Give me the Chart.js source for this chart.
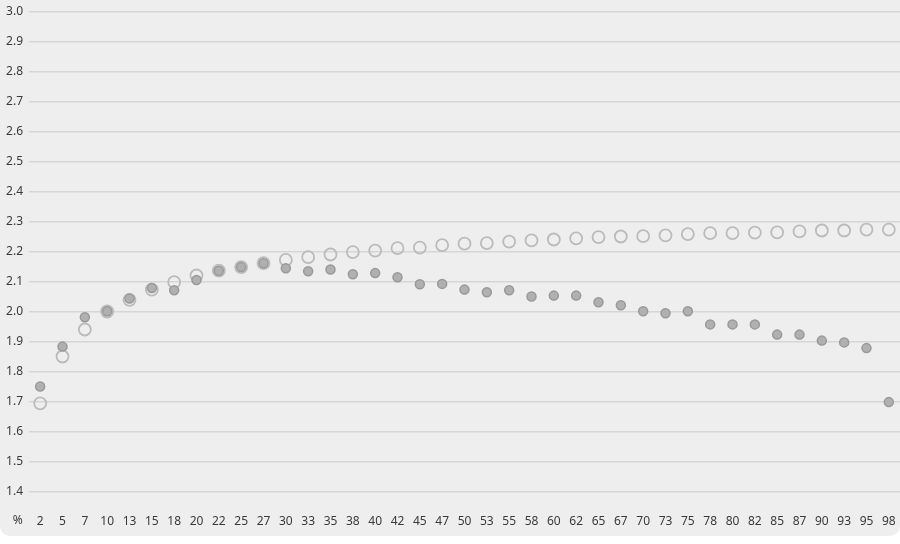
<!DOCTYPE html>
<html>
<head>
<meta charset="utf-8">
<script src="https://cdn.jsdelivr.net/npm/chart.js@4"></script>
<style>
  html, body { margin: 0; padding: 0; background: #ffffff; }
  #panel { position: absolute; left: 0; top: 0; width: 900px; height: 536px; background: #eeeeee; border-radius: 0 0 10px 10px; overflow: hidden; }
  canvas { display: block; }
</style>
</head>
<body>
<div id="panel"><canvas id="c" width="900" height="536"></canvas></div>
<script>
const categories = ['2','5','7','10','13','15','18','20','22','25','27','30','33','35','38','40','42','45','47','50','53','55','58','60','62','65','67','70','73','75','78','80','82','85','87','90','93','95','98'];
const filledValues = [1.750,1.883,1.981,2.001,2.043,2.078,2.071,2.105,2.136,2.148,2.161,2.144,2.134,2.140,2.124,2.128,2.114,2.091,2.092,2.073,2.064,2.071,2.050,2.053,2.053,2.031,2.021,2.001,1.994,2.001,1.957,1.957,1.957,1.923,1.923,1.903,1.897,1.878,1.698];
const openValues = [1.694,1.850,1.940,2.000,2.039,2.073,2.098,2.120,2.136,2.148,2.161,2.172,2.181,2.190,2.198,2.203,2.211,2.213,2.221,2.226,2.228,2.233,2.237,2.240,2.244,2.248,2.250,2.251,2.254,2.258,2.261,2.261,2.263,2.264,2.267,2.270,2.270,2.273,2.273];
const yTickMin = 1.4, yTickMax = 3.0, yTickStep = 0.1;
const cornerLabel = '%';

const FONT = '"Noto Sans", "DejaVu Sans", sans-serif';
const X_LABEL_PAD = 23;
const LABEL_COLOR = '#3a3a3a';

const cornerPlugin = {
  id: 'cornerLabel',
  afterDraw(chart) {
    const xs = chart.scales.x;
    const x0 = xs.getPixelForValue(0);
    const x1 = xs.getPixelForValue(1);
    const ctx = chart.ctx;
    ctx.save();
    ctx.font = '12px ' + FONT;
    ctx.fillStyle = LABEL_COLOR;
    ctx.textAlign = 'center';
    ctx.textBaseline = 'top';
    ctx.fillText(cornerLabel, x0 - (x1 - x0), xs.top + X_LABEL_PAD);
    ctx.restore();
  }
};

new Chart(document.getElementById('c'), {
  type: 'line',
  data: {
    labels: categories,
    datasets: [
      {
        data: filledValues,
        showLine: false,
        pointRadius: 4.5,
        pointHoverRadius: 4.5,
        pointBackgroundColor: '#b0b0b0',
        pointBorderColor: '#999999',
        pointBorderWidth: 1.5,
        borderColor: '#999999',
        backgroundColor: '#b0b0b0'
      },
      {
        data: openValues,
        showLine: false,
        pointRadius: 6,
        pointHoverRadius: 6,
        pointBackgroundColor: 'rgba(0,0,0,0)',
        pointBorderColor: '#bbbbbb',
        pointBorderWidth: 1.8,
        borderColor: '#bbbbbb',
        backgroundColor: 'rgba(0,0,0,0)'
      }
    ]
  },
  options: {
    responsive: false,
    animation: false,
    devicePixelRatio: 1,
    layout: { autoPadding: false, padding: { left: 0, right: 0, top: 11.5, bottom: 0 } },
    plugins: { legend: { display: false }, tooltip: { enabled: false } },
    scales: {
      x: {
        offset: true,
        grid: { display: false, drawTicks: false },
        border: { display: false },
        ticks: { font: { family: FONT, size: 12 }, color: LABEL_COLOR, padding: X_LABEL_PAD, maxRotation: 0, autoSkip: false },
        afterFit(scale) {
          scale.height = 44.5;
          scale.paddingLeft = 0;
          scale.paddingRight = 0;
        }
      },
      y: {
        min: yTickMin,
        max: yTickMax,
        grid: { color: '#d6d6d6', lineWidth: 1.5, drawTicks: false },
        border: { display: false },
        ticks: {
          stepSize: yTickStep,
          font: { family: FONT, size: 12 },
          color: LABEL_COLOR,
          padding: 6,
          callback: v => Number(v).toFixed(1)
        },
        afterFit(scale) {
          scale.width = 29;
          scale.paddingTop = 0;
          scale.paddingBottom = 0;
        }
      }
    }
  },
  plugins: [cornerPlugin]
});
</script>
</body>
</html>
